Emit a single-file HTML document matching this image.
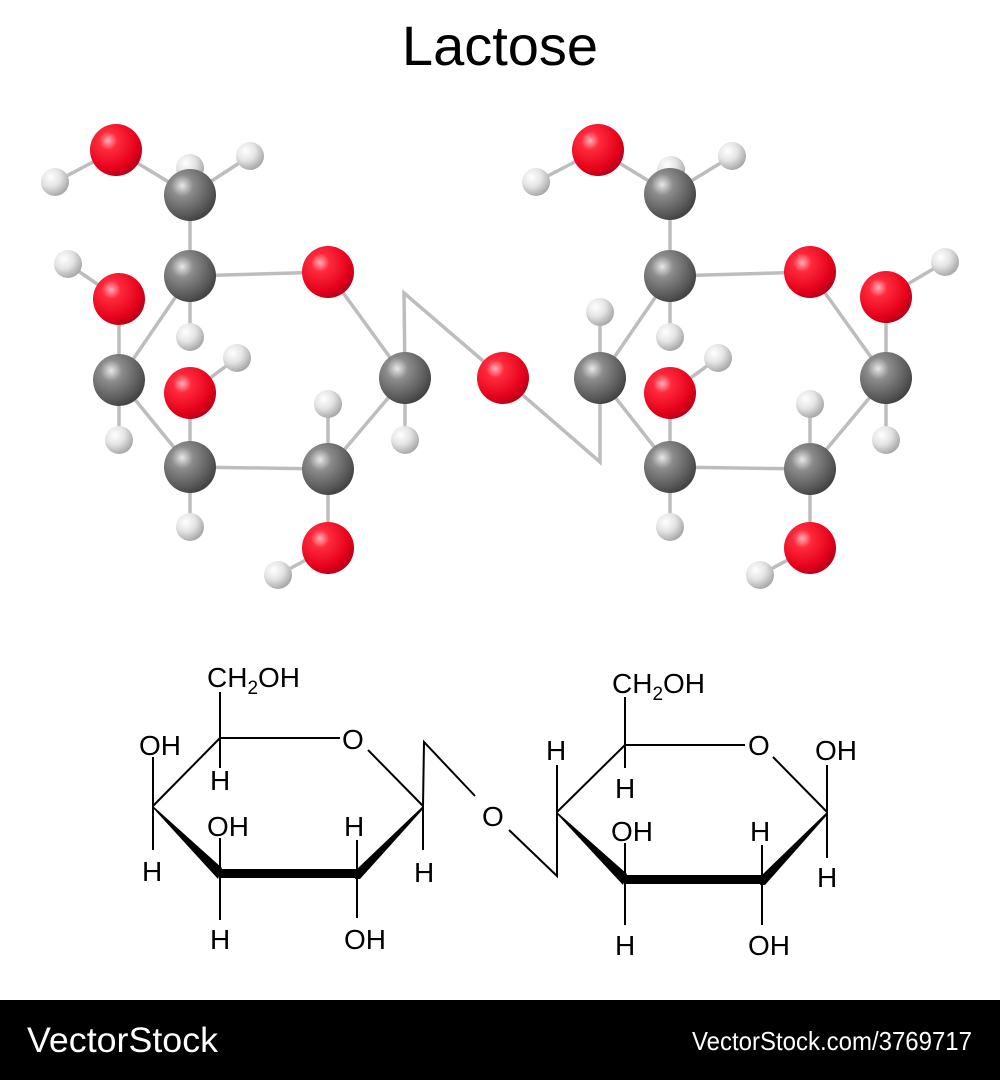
<!DOCTYPE html>
<html><head><meta charset="utf-8"><style>
html,body{margin:0;padding:0;background:#fff;}
svg{display:block;}
text{font-family:"Liberation Sans","DejaVu Sans",sans-serif;}
</style></head><body>
<svg width="1000" height="1080" viewBox="0 0 1000 1080" xmlns="http://www.w3.org/2000/svg">
<defs>
<radialGradient id="gr" cx="0.35" cy="0.32" r="0.7">
<stop offset="0" stop-color="#ffb0b8"/><stop offset="0.25" stop-color="#ff2a3c"/><stop offset="0.8" stop-color="#e4001a"/><stop offset="1" stop-color="#b8001a"/></radialGradient>
<radialGradient id="gc" cx="0.35" cy="0.32" r="0.7">
<stop offset="0" stop-color="#e8e8e8"/><stop offset="0.3" stop-color="#8c8c8c"/><stop offset="0.8" stop-color="#5a5a5a"/><stop offset="1" stop-color="#444"/></radialGradient>
<radialGradient id="gh" cx="0.35" cy="0.32" r="0.7">
<stop offset="0" stop-color="#ffffff"/><stop offset="0.5" stop-color="#e4e4e4"/><stop offset="1" stop-color="#a8a8a8"/></radialGradient>
</defs>
<text x="500" y="65" font-size="56" text-anchor="middle" fill="#000">Lactose</text>

<g stroke="#bdbdbd" stroke-width="3.5" fill="none" stroke-linecap="round">
<line x1="116" y1="150" x2="190" y2="195"/><line x1="55" y1="182" x2="116" y2="150"/>
<line x1="190" y1="195" x2="250" y2="156"/><line x1="190" y1="195" x2="190" y2="276"/>
<line x1="190" y1="276" x2="328" y2="272"/><line x1="190" y1="276" x2="190" y2="337"/>
<line x1="190" y1="276" x2="119" y2="380"/><line x1="119" y1="299" x2="119" y2="380"/>
<line x1="119" y1="299" x2="68" y2="264"/><line x1="119" y1="380" x2="119" y2="440"/>
<line x1="119" y1="380" x2="190" y2="467"/><line x1="190" y1="393" x2="190" y2="467"/>
<line x1="190" y1="393" x2="237" y2="358"/><line x1="190" y1="467" x2="328" y2="469"/>
<line x1="190" y1="467" x2="190" y2="527"/><line x1="328" y1="469" x2="405" y2="378"/>
<line x1="328" y1="469" x2="328" y2="404"/><line x1="328" y1="469" x2="328" y2="548"/>
<line x1="328" y1="548" x2="278" y2="575"/><line x1="405" y1="378" x2="328" y2="272"/>
<line x1="405" y1="378" x2="405" y2="440"/>
<polyline points="405,378 404,293 503,378 600,462 600,378"/>
<line x1="598" y1="150" x2="670" y2="194"/><line x1="536" y1="182" x2="598" y2="150"/>
<line x1="670" y1="194" x2="732" y2="156"/><line x1="670" y1="194" x2="670" y2="276"/>
<line x1="670" y1="276" x2="810" y2="272"/><line x1="670" y1="276" x2="670" y2="337"/>
<line x1="670" y1="276" x2="600" y2="378"/><line x1="600" y1="378" x2="600" y2="312"/>
<line x1="600" y1="378" x2="670" y2="467"/><line x1="670" y1="393" x2="670" y2="467"/>
<line x1="670" y1="393" x2="718" y2="358"/><line x1="670" y1="467" x2="810" y2="469"/>
<line x1="670" y1="467" x2="670" y2="527"/><line x1="810" y1="469" x2="886" y2="378"/>
<line x1="810" y1="469" x2="810" y2="404"/><line x1="810" y1="469" x2="810" y2="548"/>
<line x1="810" y1="548" x2="760" y2="575"/><line x1="886" y1="378" x2="810" y2="272"/>
<line x1="886" y1="378" x2="886" y2="297"/><line x1="886" y1="297" x2="945" y2="262"/>
<line x1="886" y1="378" x2="886" y2="440"/>
</g>

<g>
<circle cx="190" cy="168" r="14" fill="url(#gh)"/><circle cx="671" cy="170" r="14" fill="url(#gh)"/>
<circle cx="55" cy="182" r="14" fill="url(#gh)"/><circle cx="250" cy="156" r="14" fill="url(#gh)"/>
<circle cx="68" cy="264" r="14" fill="url(#gh)"/><circle cx="190" cy="337" r="14" fill="url(#gh)"/>
<circle cx="119" cy="440" r="14" fill="url(#gh)"/><circle cx="237" cy="358" r="14" fill="url(#gh)"/>
<circle cx="190" cy="527" r="14" fill="url(#gh)"/><circle cx="328" cy="404" r="14" fill="url(#gh)"/>
<circle cx="278" cy="575" r="14" fill="url(#gh)"/><circle cx="405" cy="440" r="14" fill="url(#gh)"/>
<circle cx="536" cy="182" r="14" fill="url(#gh)"/><circle cx="732" cy="156" r="14" fill="url(#gh)"/>
<circle cx="670" cy="337" r="14" fill="url(#gh)"/><circle cx="600" cy="312" r="14" fill="url(#gh)"/>
<circle cx="718" cy="358" r="14" fill="url(#gh)"/><circle cx="670" cy="527" r="14" fill="url(#gh)"/>
<circle cx="810" cy="404" r="14" fill="url(#gh)"/><circle cx="760" cy="575" r="14" fill="url(#gh)"/>
<circle cx="886" cy="440" r="14" fill="url(#gh)"/><circle cx="945" cy="262" r="14" fill="url(#gh)"/>
<circle cx="190" cy="195" r="26" fill="url(#gc)"/><circle cx="190" cy="276" r="26" fill="url(#gc)"/>
<circle cx="119" cy="380" r="26" fill="url(#gc)"/><circle cx="190" cy="467" r="26" fill="url(#gc)"/>
<circle cx="328" cy="469" r="26" fill="url(#gc)"/><circle cx="405" cy="378" r="26" fill="url(#gc)"/>
<circle cx="670" cy="194" r="26" fill="url(#gc)"/><circle cx="670" cy="276" r="26" fill="url(#gc)"/>
<circle cx="600" cy="378" r="26" fill="url(#gc)"/><circle cx="670" cy="467" r="26" fill="url(#gc)"/>
<circle cx="810" cy="469" r="26" fill="url(#gc)"/><circle cx="886" cy="378" r="26" fill="url(#gc)"/>
<circle cx="116" cy="150" r="26" fill="url(#gr)"/><circle cx="328" cy="272" r="26" fill="url(#gr)"/>
<circle cx="119" cy="299" r="26" fill="url(#gr)"/><circle cx="190" cy="393" r="26" fill="url(#gr)"/>
<circle cx="328" cy="548" r="26" fill="url(#gr)"/><circle cx="503" cy="378" r="26" fill="url(#gr)"/>
<circle cx="598" cy="150" r="26" fill="url(#gr)"/><circle cx="810" cy="272" r="26" fill="url(#gr)"/>
<circle cx="886" cy="297" r="26" fill="url(#gr)"/><circle cx="670" cy="393" r="26" fill="url(#gr)"/>
<circle cx="810" cy="548" r="26" fill="url(#gr)"/>
</g>

<g stroke="#000" stroke-width="2" fill="none">
<line x1="220" y1="692" x2="220" y2="738"/><line x1="220" y1="738" x2="340" y2="738"/>
<line x1="368" y1="750" x2="423" y2="806"/><line x1="220" y1="738" x2="153" y2="806"/>
<line x1="153" y1="757" x2="153" y2="850"/><line x1="220" y1="738" x2="220" y2="768"/>
<line x1="220" y1="838" x2="220" y2="920"/><line x1="357" y1="840" x2="357" y2="918"/>
<line x1="423" y1="806" x2="423" y2="850"/>
<polyline points="423,806 424,742 475,796"/><polyline points="509,830 557,876 557,810"/>
<line x1="625" y1="697" x2="625" y2="745"/><line x1="625" y1="745" x2="745" y2="745"/>
<line x1="773" y1="757" x2="827" y2="812"/><line x1="625" y1="745" x2="557" y2="812"/>
<line x1="557" y1="765" x2="557" y2="812"/><line x1="625" y1="745" x2="625" y2="768"/>
<line x1="625" y1="843" x2="625" y2="925"/><line x1="762" y1="845" x2="762" y2="925"/>
<line x1="827" y1="765" x2="827" y2="858"/>
</g>
<g fill="#000">
<polygon points="153,806 222,868 218,879 153,808"/>
<rect x="220" y="869" width="137" height="9"/>
<polygon points="357,869 423,806 424,808 360,879 355,879"/>
<polygon points="557,812 627,874 623,885 557,814"/>
<rect x="625" y="875" width="137" height="9"/>
<polygon points="762,875 827,812 828,814 765,885 760,885"/>
</g>
<g font-size="28" fill="#000">
<text x="207" y="687">CH<tspan font-size="19" dy="7">2</tspan><tspan dy="-7">OH</tspan></text>
<text x="139" y="755">OH</text>
<text x="210" y="790">H</text>
<text x="342" y="749">O</text>
<text x="142" y="881">H</text>
<text x="207" y="836">OH</text>
<text x="344" y="836">H</text>
<text x="210" y="949">H</text>
<text x="344" y="949">OH</text>
<text x="414" y="882">H</text>
<text x="482" y="826">O</text>
<text x="612" y="693">CH<tspan font-size="19" dy="7">2</tspan><tspan dy="-7">OH</tspan></text>
<text x="546" y="760">H</text>
<text x="615" y="798">H</text>
<text x="748" y="755">O</text>
<text x="815" y="760">OH</text>
<text x="611" y="841">OH</text>
<text x="750" y="841">H</text>
<text x="817" y="887">H</text>
<text x="615" y="955">H</text>
<text x="748" y="955">OH</text>
</g>

<rect x="0" y="1000" width="1000" height="80" fill="#000"/>
<text x="27" y="1052" font-size="35" fill="#fff" textLength="191" lengthAdjust="spacingAndGlyphs">VectorStock</text>
<text x="692" y="1050" font-size="26" fill="#fff" textLength="280" lengthAdjust="spacingAndGlyphs">VectorStock.com/3769717</text>
</svg>
</body></html>
